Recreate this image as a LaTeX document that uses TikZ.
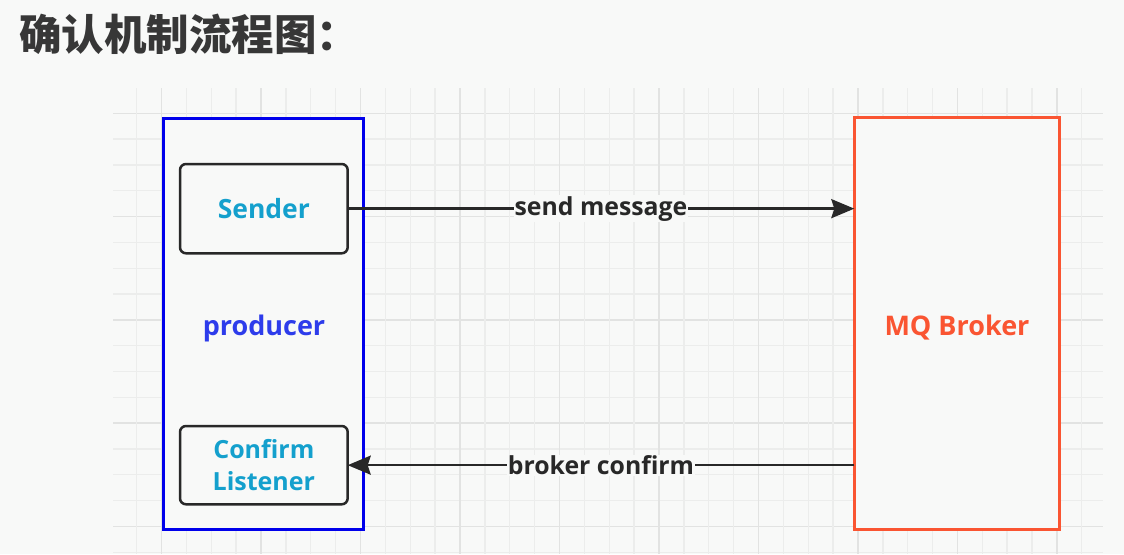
\documentclass[tikz,border=0pt]{standalone}
\usepackage{fontspec}
\setmainfont{Open Sans}
\newfontfamily\cjk{Noto Sans CJK SC}
\usetikzlibrary{arrows.meta}
\definecolor{bg}{RGB}{248,249,248}
\definecolor{gridminor}{RGB}{236,237,236}
\definecolor{gridmajor}{RGB}{226,227,226}
\definecolor{prodblue}{RGB}{0,0,235}
\definecolor{prodtext}{RGB}{45,60,235}
\definecolor{cyantext}{RGB}{20,160,205}
\definecolor{brokerred}{RGB}{250,85,50}
\definecolor{darkline}{RGB}{40,40,40}
\definecolor{titlegray}{RGB}{55,55,55}
\tikzset{
  container/.style={draw, line width=3pt, minimum width=#1, inner sep=0pt, outer sep=0pt},
  innerbox/.style={draw=darkline, line width=2.5pt, rounded corners=6pt, fill=bg, inner sep=0pt, outer sep=0pt, align=center,
    text=cyantext, font=\bfseries\fontsize{25}{32}\selectfont, minimum width=167.7pt},
  msgarrow/.style={draw=darkline, line width=2.5pt, -{Stealth[length=23pt,width=19pt,inset=3pt]}},
  msglabel/.style={fill=bg, inner sep=1pt, text=darkline, font=\bfseries\fontsize{24.8}{28}\selectfont},
  bigtext/.style={font=\bfseries\fontsize{27}{32}\selectfont, inner sep=0pt}
}
\begin{document}
\begin{tikzpicture}[x=1pt, y=-1pt]
\useasboundingbox (0,0) rectangle (1124,554);
\fill[bg] (0,0) rectangle (1124,554);
% grid
\foreach \j in {0,...,17} {
  \pgfmathsetmacro{\yy}{113.3+25.82*\j}
  \pgfmathtruncatemacro{\mj}{mod(\j,4)}
  \ifnum\mj=0
    \draw[gridmajor, line width=1.6pt] (113,\yy) -- (1103,\yy);
  \else
    \draw[gridminor, line width=1.4pt] (113,\yy) -- (1103,\yy);
  \fi
}
\foreach \k in {0,...,38} {
  \pgfmathsetmacro{\xx}{136.7+24.87*\k}
  \pgfmathtruncatemacro{\mk}{mod(\k,4)}
  \ifnum\mk=1
    \draw[gridmajor, line width=1.6pt] (\xx,88) -- (\xx,554);
  \else
    \draw[gridminor, line width=1.4pt] (\xx,88) -- (\xx,554);
  \fi
}
% title
\node[anchor=west, inner sep=0pt, text=titlegray, font=\cjk\bfseries\fontsize{42.5}{45}\selectfont] (title) at (19,34) {确认机制流程图：};
% containers
\node[container=200pt, draw=prodblue, fill=bg, minimum height=410.7pt] (producer) at (263.3,323.7) {};
\node[bigtext, text=prodtext] (producerlabel) at (264,328) {producer};
\node[container=204.7pt, draw=brokerred, fill=bg, minimum height=411.3pt] (broker) at (956.65,323.35) {};
\node[bigtext, text=brokerred] (brokerlabel) at (957,327.5) {MQ Broker};
% inner boxes
\node[innerbox, minimum height=89.3pt, font=\bfseries\fontsize{26.5}{32}\selectfont] (sender) at (263.85,208.65) {Sender};
\node[innerbox, minimum height=78.3pt] (listener) at (263.85,465.15) {Confirm\\Listener};
% arrows
\draw[msgarrow] (sender.east) -- (broker.west |- sender.east) node[midway, msglabel] (sendlabel) {send message};
\draw[msgarrow] (broker.west |- listener.east) -- (listener.east) node[midway, msglabel] (confirmlabel) {broker confirm};
\end{tikzpicture}
\end{document}
